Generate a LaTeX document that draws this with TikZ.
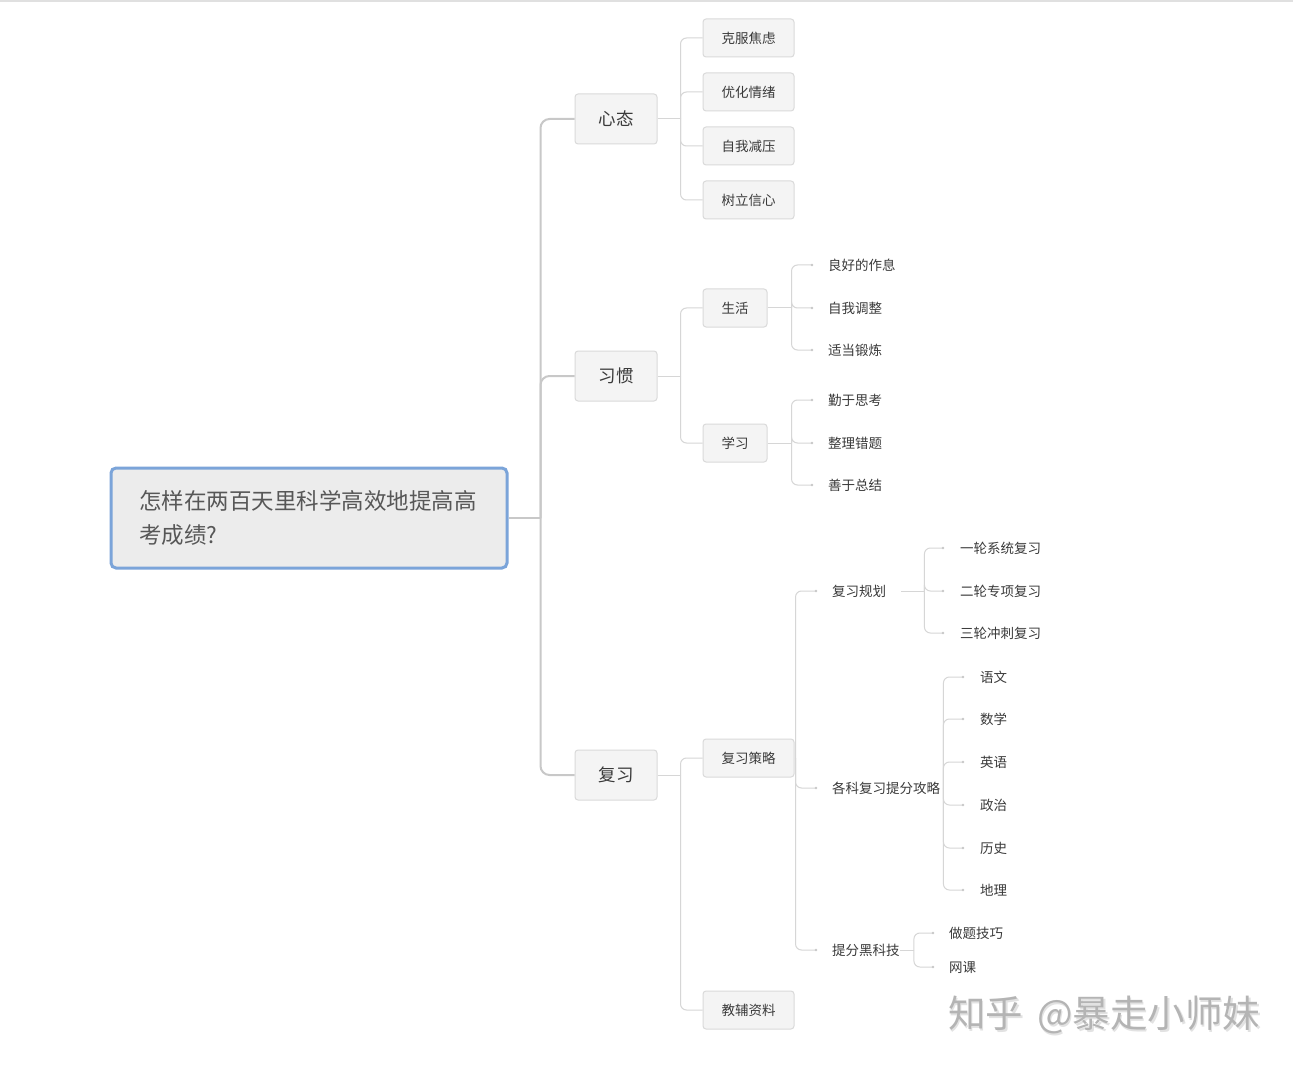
\documentclass[tikz,border=0pt]{standalone}
\usepackage{fontspec}
\setmainfont{Noto Sans CJK SC}
\definecolor{rootblue}{HTML}{7BA4D9}
\definecolor{rootfill}{HTML}{ECECEC}
\definecolor{boxline}{HTML}{DADADA}
\definecolor{boxfill}{HTML}{F4F4F4}
\definecolor{trunkc}{HTML}{C8C8C8}
\definecolor{branchc}{HTML}{D6D6D6}
\definecolor{txt}{HTML}{3A3A3A}
\definecolor{wm}{HTML}{B4B4B4}
\definecolor{wmshadow}{HTML}{E2E2E2}
\tikzset{
  rootbox/.style={draw=rootblue, line width=3pt, fill=rootfill, rounded corners=5pt,
    minimum width=396pt, minimum height=100pt, text width=340pt, inner xsep=28pt,
    align=left, text=txt!85, font=\fontsize{22.5}{34}\selectfont},
  lonebox/.style={draw=boxline, line width=1pt, fill=boxfill, rounded corners=3pt,
    minimum width=82pt, minimum height=50pt, inner sep=0pt, text=txt,
    font=\fontsize{17.5}{20}\selectfont},
  ltwobox/.style={draw=boxline, line width=1pt, fill=boxfill, rounded corners=3pt,
    minimum width=91pt, minimum height=38pt, inner sep=0pt, text=txt,
    font=\fontsize{13.5}{16}\selectfont},
  lsmallbox/.style={ltwobox, minimum width=64pt},
  leaftext/.style={anchor=west, inner sep=0pt, text=txt,
    font=\fontsize{13.5}{16}\selectfont},
  trunk/.style={draw=trunkc, line width=2pt, rounded corners=9pt},
  branch/.style={draw=branchc, line width=1pt, rounded corners=6pt},
  tip/.style={fill=trunkc, draw=none},
  wmark/.style={anchor=west, inner sep=0pt, font=\fontsize{37.5}{40}\selectfont},
}
\begin{document}
\begin{tikzpicture}[x=1pt, y=-1pt]
\useasboundingbox (0,0) rectangle (1293,1067);
\fill[white] (0,0) rectangle (1293,1067);
\fill[black!12] (0,0) rectangle (1293,2);

% root
\node[rootbox] (root) at (309,518) {怎样在两百天里科学高效地提高高\\考成绩?};

% level 1
\node[lonebox] (xt) at (616,119) {心态};
\node[lonebox] (xg) at (616,376) {习惯};
\node[lonebox] (fx) at (616,775) {复习};

\draw[trunk] (root.east) -- ++(32,0) coordinate (rj);
\foreach \c in {xt,xg,fx}
  \draw[trunk] (rj) |- (\c.west);

% 心态 children
\node[ltwobox] (kf) at (748.5,38) {克服焦虑};
\node[ltwobox] (yh) at (748.5,92) {优化情绪};
\node[ltwobox] (zw) at (748.5,146) {自我减压};
\node[ltwobox] (sl) at (748.5,200) {树立信心};
\draw[branch] (xt.east) -- ++(23,0) coordinate (j1);
\foreach \c in {kf,yh,zw,sl}
  \draw[branch] (j1) |- (\c.west);

% 习惯 children
\node[lsmallbox] (sh) at (735,308) {生活};
\node[lsmallbox] (xx) at (735,443) {学习};
\draw[branch] (xg.east) -- ++(23,0) coordinate (j2);
\foreach \c in {sh,xx}
  \draw[branch] (j2) |- (\c.west);

% 生活 leaves
\node[leaftext] (sh1) at (828,265) {良好的作息};
\node[leaftext] (sh2) at (828,308) {自我调整};
\node[leaftext] (sh3) at (828,350) {适当锻炼};
\draw[branch] (sh.east) -- ++(24,0) coordinate (j3);
\foreach \c in {sh1,sh2,sh3}{
  \draw[branch] (j3) |- ([xshift=-16pt]\c.west) coordinate (d);
  \fill[tip] (d) circle (1.4pt);
}

% 学习 leaves
\node[leaftext] (xx1) at (828,400) {勤于思考};
\node[leaftext] (xx2) at (828,443) {整理错题};
\node[leaftext] (xx3) at (828,485) {善于总结};
\draw[branch] (xx.east) -- ++(24,0) coordinate (j4);
\foreach \c in {xx1,xx2,xx3}{
  \draw[branch] (j4) |- ([xshift=-16pt]\c.west) coordinate (d);
  \fill[tip] (d) circle (1.4pt);
}

% 复习 children
\node[ltwobox] (cl) at (748.5,758) {复习策略};
\node[ltwobox] (jf) at (748.5,1010) {教辅资料};
\draw[branch] (fx.east) -- ++(23,0) coordinate (j5);
\foreach \c in {cl,jf}
  \draw[branch] (j5) |- (\c.west);

% 复习策略 children
\node[leaftext] (gh) at (832,591) {复习规划};
\node[leaftext] (gk) at (832,788) {各科复习提分攻略};
\node[leaftext] (hk) at (832,950) {提分黑科技};
\draw[branch] (cl.east) -- ++(1,0) coordinate (j6);
\foreach \c in {gh,gk,hk}{
  \draw[branch] (j6) |- ([xshift=-16pt]\c.west) coordinate (d);
  \fill[tip] (d) circle (1.4pt);
}

% 复习规划 leaves
\node[leaftext] (gh1) at (960,548) {一轮系统复习};
\node[leaftext] (gh2) at (960,591) {二轮专项复习};
\node[leaftext] (gh3) at (960,633) {三轮冲刺复习};
\draw[branch] ([xshift=15pt]gh.east) -- ++(23,0) coordinate (j7);
\foreach \c in {gh1,gh2,gh3}{
  \draw[branch] (j7) |- ([xshift=-17pt]\c.west) coordinate (d);
  \fill[tip] (d) circle (1.4pt);
}

% 各科 leaves
\node[leaftext] (s1) at (980,677) {语文};
\node[leaftext] (s2) at (980,719) {数学};
\node[leaftext] (s3) at (980,762) {英语};
\node[leaftext] (s4) at (980,805) {政治};
\node[leaftext] (s5) at (980,848) {历史};
\node[leaftext] (s6) at (980,890) {地理};
\coordinate (j8) at ([xshift=3pt]gk.east);
\foreach \c in {s1,s2,s3,s4,s5,s6}{
  \draw[branch] (j8) |- ([xshift=-17pt]\c.west) coordinate (d);
  \fill[tip] (d) circle (1.4pt);
}

% 提分黑科技 leaves
\node[leaftext] (hk1) at (949,933) {做题技巧};
\node[leaftext] (hk2) at (949,967) {网课};
\draw[branch] (hk.east) -- ++(14,0) coordinate (j9);
\foreach \c in {hk1,hk2}{
  \draw[branch] (j9) |- ([xshift=-16pt]\c.west) coordinate (d);
  \fill[tip] (d) circle (1.4pt);
}

% watermark
\node[wmark, text=wmshadow] (wms) at (949.5,1016.5) {知乎\hspace{14pt}@暴走小师妹};
\node[wmark, text=wm] (wmk) at (948,1015) {知乎\hspace{14pt}@暴走小师妹};
\end{tikzpicture}
\end{document}
